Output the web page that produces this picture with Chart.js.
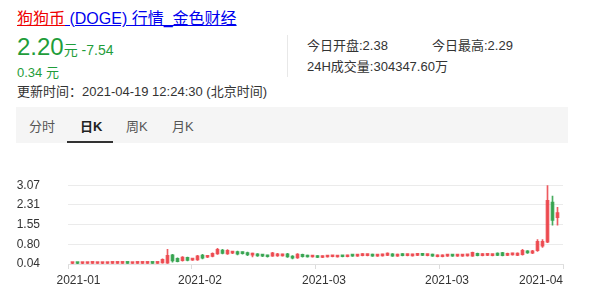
<!DOCTYPE html>
<html lang="zh-CN">
<head>
    <meta charset="UTF-8">
    <script src="https://cdn.jsdelivr.net/npm/chart.js@4.4.1/dist/chart.umd.min.js"></script>
    <title>狗狗币 (DOGE) 行情</title>
    <style>
        body { margin: 0; width: 599px; height: 302px; position: relative; overflow: hidden; background: #fff;
               font-family: "Liberation Sans", Arial, "Noto Sans CJK SC", sans-serif; color: #333; }
        .abs { position: absolute; white-space: nowrap; }
        #title { left: 17px; top: 10px; font-size: 16px; line-height: 18px; }
        #title a { color: #0000ee; text-decoration: underline; }
        #title a.red { color: #e00; }
        #price { left: 17px; top: 35px; line-height: 24px; color: #1f9d3a; }
        #price .big { font-size: 24px; }
        #price .small { font-size: 14px; }
        #change { left: 17px; top: 65px; font-size: 13px; line-height: 15px; color: #1f9d3a; }
        #time { left: 17px; top: 84px; font-size: 13px; line-height: 15px; }
        #info { left: 287px; top: 35px; width: 1px; height: 42px; background: #e8e8e8; }
        .cell { font-size: 13px; line-height: 15px; }
        #tabs { left: 16px; top: 107px; width: 552px; height: 36px; background: #f5f5f5; }
        .tab { font-size: 13px; line-height: 15px; top: 12px; color: #555; }
        .tab.on { font-weight: bold; color: #222; }
        #bar { left: 51px; top: 34px; width: 46px; height: 2px; background: #333; }
        #box { left: 0; top: 150px; width: 599px; height: 150px; }
    </style>
</head>
<body>

    <div class="abs" id="title"><a class="red">狗狗币</a><a> (DOGE) 行情_金色财经</a></div>
    <div class="abs" id="price"><span class="big">2.20</span><span class="small">元 -7.54</span></div>
    <div class="abs" id="change">0.34 元</div>
    <div class="abs" id="time">更新时间：2021-04-19 12:24:30 (北京时间)</div>
    <div class="abs" id="info"></div>
    <div class="abs cell" style="left:307px;top:38px">今日开盘:2.38</div>
    <div class="abs cell" style="left:432px;top:38px">今日最高:2.29</div>
    <div class="abs cell" style="left:307px;top:59px">24H成交量:304347.60万</div>
    <div class="abs" id="tabs">
        <div class="abs tab" style="left:13px">分时</div>
        <div class="abs tab on" style="left:64px">日K</div>
        <div class="abs tab" style="left:110px">周K</div>
        <div class="abs tab" style="left:156px">月K</div>
        <div class="abs" id="bar"></div>
    </div>
    <div class="abs" id="box"><canvas id="myChart"></canvas></div>

    <script>
        // daily candles, 2021-01-12 .. 2021-04-19
        const open = [
            0.058, 0.064, 0.059, 0.060, 0.061, 0.060, 0.059, 0.060, 0.061, 0.062,
            0.061, 0.066, 0.060, 0.061, 0.062, 0.061, 0.068, 0.062, 0.080, 0.070,
            0.390, 0.260, 0.170, 0.300, 0.190, 0.200, 0.380, 0.300, 0.330, 0.430,
            0.580, 0.430, 0.460, 0.520, 0.490, 0.480, 0.380, 0.420, 0.390, 0.370,
            0.340, 0.350, 0.350, 0.430, 0.340, 0.270, 0.410, 0.370, 0.310, 0.350,
            0.290, 0.310, 0.320, 0.310, 0.350, 0.320, 0.380, 0.340, 0.360, 0.360,
            0.410, 0.340, 0.350, 0.370, 0.430, 0.340, 0.430, 0.360, 0.350, 0.370,
            0.440, 0.360, 0.410, 0.320, 0.320, 0.340, 0.390, 0.340, 0.340, 0.350,
            0.340, 0.450, 0.360, 0.370, 0.360, 0.460, 0.480, 0.370, 0.390, 0.370,
            0.400, 0.540, 0.460, 0.550, 0.730, 0.880, 2.420, 1.820
        ];
        const close = [
            0.063, 0.059, 0.063, 0.064, 0.064, 0.063, 0.062, 0.064, 0.064, 0.066,
            0.064, 0.061, 0.063, 0.064, 0.066, 0.068, 0.062, 0.075, 0.220, 0.370,
            0.160, 0.130, 0.310, 0.180, 0.230, 0.350, 0.260, 0.340, 0.450, 0.600,
            0.450, 0.570, 0.510, 0.420, 0.440, 0.390, 0.440, 0.350, 0.340, 0.320,
            0.470, 0.430, 0.410, 0.310, 0.260, 0.420, 0.320, 0.310, 0.360, 0.290,
            0.340, 0.360, 0.360, 0.350, 0.320, 0.370, 0.340, 0.400, 0.430, 0.410,
            0.340, 0.390, 0.410, 0.460, 0.340, 0.410, 0.360, 0.410, 0.410, 0.430,
            0.370, 0.410, 0.340, 0.380, 0.380, 0.400, 0.340, 0.390, 0.390, 0.390,
            0.490, 0.360, 0.430, 0.410, 0.410, 0.370, 0.360, 0.450, 0.450, 0.460,
            0.570, 0.470, 0.550, 0.910, 0.910, 2.490, 1.720, 2.020
        ];
        const high = [
            0.066, 0.067, 0.065, 0.066, 0.067, 0.066, 0.064, 0.066, 0.066, 0.068,
            0.067, 0.068, 0.065, 0.066, 0.068, 0.070, 0.070, 0.080, 0.240, 0.600,
            0.410, 0.280, 0.330, 0.310, 0.240, 0.370, 0.410, 0.360, 0.470, 0.640,
            0.600, 0.590, 0.530, 0.540, 0.510, 0.500, 0.460, 0.440, 0.410, 0.380,
            0.490, 0.450, 0.420, 0.450, 0.360, 0.440, 0.420, 0.380, 0.370, 0.360,
            0.350, 0.370, 0.370, 0.360, 0.360, 0.380, 0.390, 0.410, 0.440, 0.420,
            0.420, 0.400, 0.420, 0.470, 0.440, 0.420, 0.440, 0.420, 0.420, 0.440,
            0.450, 0.420, 0.420, 0.390, 0.390, 0.410, 0.400, 0.400, 0.400, 0.400,
            0.500, 0.460, 0.440, 0.420, 0.420, 0.470, 0.490, 0.460, 0.460, 0.470,
            0.600, 0.560, 0.570, 0.980, 0.980, 3.070, 2.650, 2.220
        ];
        const low = [
            0.055, 0.056, 0.057, 0.058, 0.059, 0.058, 0.057, 0.058, 0.059, 0.060,
            0.059, 0.059, 0.058, 0.059, 0.060, 0.059, 0.060, 0.060, 0.070, 0.060,
            0.110, 0.120, 0.150, 0.160, 0.180, 0.180, 0.240, 0.280, 0.310, 0.410,
            0.430, 0.410, 0.440, 0.390, 0.420, 0.360, 0.310, 0.330, 0.320, 0.300,
            0.330, 0.330, 0.340, 0.290, 0.240, 0.250, 0.300, 0.300, 0.300, 0.280,
            0.280, 0.300, 0.310, 0.300, 0.310, 0.310, 0.330, 0.330, 0.350, 0.350,
            0.330, 0.330, 0.340, 0.360, 0.330, 0.330, 0.350, 0.350, 0.340, 0.360,
            0.360, 0.350, 0.330, 0.310, 0.310, 0.330, 0.330, 0.330, 0.330, 0.340,
            0.330, 0.350, 0.350, 0.360, 0.350, 0.360, 0.350, 0.360, 0.380, 0.360,
            0.380, 0.450, 0.440, 0.520, 0.680, 0.860, 1.530, 1.530
        ];
        const xTickLabels = ['2021-01', '2021-02', '2021-03', '2021-03', '2021-04'];
        const yTickLabels = ['0.04', '0.80', '1.55', '2.31', '3.07'];

        const dates = [];
        for (let d = new Date(Date.UTC(2021, 0, 12)); dates.length < open.length; d.setUTCDate(d.getUTCDate() + 1)) {
            dates.push(d.toISOString().slice(0, 10));
        }

        const up = 'rgba(236, 72, 78, 0.9)';
        const down = 'rgba(52, 163, 78, 0.9)';
        const colors = open.map((o, i) => close[i] >= o ? up : down);

        // tick marks sit on the month boundaries, labels a bit to the right
        const markAt = [-0.9, 23.85, 48.6, 73.35, 98.1];
        const labelAt = [1.2, 25.5, 50.3, 74.9, 93.7];
        const yMin = 0.04, yMax = 3.07;

        const ctx = document.getElementById('myChart').getContext('2d');

        new Chart(ctx, {
            type: 'bar',
            data: {
                labels: dates,
                datasets: [{
                    label: 'body',
                    data: dates.map((d, i) => ({ x: i, y: [open[i], close[i]] })),
                    backgroundColor: colors,
                    barThickness: 3,
                    minBarLength: 2,
                    grouped: false,
                }, {
                    label: 'wick',
                    data: dates.map((d, i) => ({ x: i, y: [low[i], high[i]] })),
                    backgroundColor: colors,
                    barThickness: 1,
                    minBarLength: 1,
                    grouped: false,
                }],
            },
            options: {
                responsive: true,
                maintainAspectRatio: false,
                animation: false,
                layout: { padding: { top: 14, right: 36, bottom: 0, left: 0 } },
                plugins: { legend: { display: false }, tooltip: { enabled: false } },
                scales: {
                    x: {
                        type: 'linear',
                        min: -0.9,
                        max: 98.1,
                        offset: false,
                        grid: {
                            offset: false,
                            drawOnChartArea: false,
                            tickLength: 5,
                            tickColor: c => markAt.includes(c.tick && c.tick.value) ? '#dcdcdc' : 'rgba(0,0,0,0)',
                        },
                        border: { display: true, color: '#e0e0e0' },
                        afterBuildTicks: s => {
                            s.ticks = markAt.concat(labelAt).sort((a, b) => a - b).map(v => ({ value: v }));
                        },
                        afterFit: s => { s.height = 36; },
                        ticks: {
                            autoSkip: false,
                            maxRotation: 0,
                            minRotation: 0,
                            padding: 4,
                            color: '#333',
                            font: { family: '"Liberation Sans", Arial, sans-serif', size: 12 },
                            callback: v => {
                                const k = labelAt.indexOf(v);
                                return k >= 0 ? xTickLabels[k] : '';
                            },
                        },
                    },
                    y: {
                        min: yMin,
                        max: yMax,
                        grid: { color: '#ebebeb', drawTicks: false },
                        border: { display: false },
                        afterBuildTicks: s => {
                            s.ticks = yTickLabels.map((t, i) => ({ value: yMin + (yMax - yMin) * i / 4 }));
                        },
                        afterFit: s => { s.width = 68; },
                        ticks: {
                            padding: 28,
                            color: '#333',
                            font: { family: '"Liberation Sans", Arial, sans-serif', size: 12 },
                            callback: (v, i) => yTickLabels[i],
                        },
                    },
                },
            },
        });
    </script>

</body>
</html>
